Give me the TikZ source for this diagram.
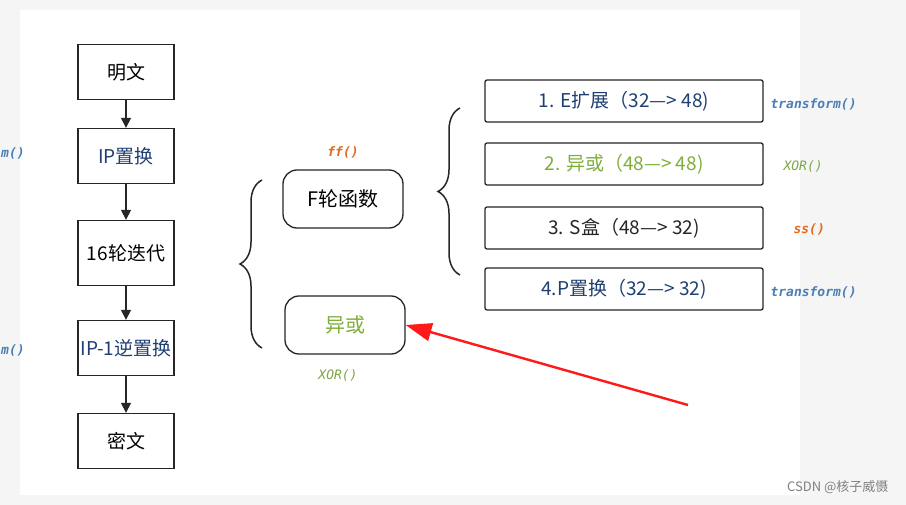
\documentclass[tikz,border=0pt]{standalone}
\usepackage{fontspec}
\setmainfont{Noto Sans CJK SC}
\newfontfamily\monof{DejaVu Sans Mono}
\usetikzlibrary{decorations.pathreplacing,arrows.meta}
\definecolor{dblue}{HTML}{1F3F73}
\definecolor{lblue}{HTML}{4A7FB5}
\definecolor{lgreen}{HTML}{7FAE3A}
\definecolor{orng}{HTML}{E06A1E}
\begin{document}
\begin{tikzpicture}[x=1pt,y=-1pt,
 box/.style={draw=black!85,line width=1.3pt,minimum width=96pt,font=\fontsize{19}{19}\selectfont,inner sep=0pt},
 rbox/.style={draw=black!85,line width=1.3pt,rounded corners=14pt,minimum width=120pt,minimum height=58pt,font=\fontsize{20}{20}\selectfont},
 sbox/.style={draw=black!85,line width=1.3pt,rounded corners=2pt,minimum width=278pt,minimum height=42pt,font=\fontsize{19}{19}\selectfont},
 fn/.style={font=\monof\itshape\bfseries\fontsize{13}{13}\selectfont},
 arr/.style={-{Triangle[length=10pt,width=10pt]},line width=1.3pt,black!85},
 br/.style={decorate,decoration={brace,amplitude=22pt},line width=1.5pt,black!85}]
\useasboundingbox (0,0) rectangle (906,505);
\clip (0,0) rectangle (906,505);
\fill[gray!8] (0,0) rectangle (906,505);
\fill[white] (20,10) rectangle (800,495);
\node[box,minimum height=55pt] (a) at (126,72) {明文};
\node[box,minimum height=55pt,text=dblue] (b) at (126,156) {IP置换};
\node[box,minimum height=65pt] (c) at (126,253) {16轮迭代};
\node[box,minimum height=55pt,text=dblue] (d) at (126,348) {IP-1逆置换};
\node[box,minimum height=55pt] (e) at (126,441) {密文};
\draw[arr] (a) -- (b); \draw[arr] (b) -- (c); \draw[arr] (c) -- (d); \draw[arr] (d) -- (e);
\node[fn,text=lblue,anchor=west,inner sep=1pt] (lb1) at (0,153) {m()};
\node[fn,text=lblue,anchor=west,inner sep=1pt] (lb2) at (0,350) {m()};
\coordinate (b1s) at (262,348); \coordinate (b1e) at (262,180);
\draw[br] (b1s) -- (b1e);
\node[rbox] (f) at (343,199) {F轮函数};
\node[rbox,text=lgreen] (x) at (345,325) {异或};
\node[fn,text=orng] (ff) at (343,152) {ff()};
\node[fn,text=lgreen!80!gray,font=\monof\itshape\fontsize{13}{13}\selectfont] (xl) at (338,375) {XOR()};
\coordinate (b2s) at (460,275); \coordinate (b2e) at (460,108);
\draw[br] (b2s) -- (b2e);
\node[sbox,text=dblue] (s1) at (624,101) {1. E扩展（32—> 48)};
\node[sbox,text=lgreen] (s2) at (624,164) {2. 异或（48—> 48)};
\node[sbox,text=black!85] (s3) at (624,228) {3. S盒（48—> 32)};
\node[sbox,text=dblue] (s4) at (624,289) {4.P置换（32—> 32)};
\node[fn,text=lblue,anchor=west] (t1) at (767,104) {transform()};
\node[fn,text=lgreen!80!gray,font=\monof\itshape\fontsize{13}{13}\selectfont,anchor=west] (t2) at (780,166) {XOR()};
\node[fn,text=orng,anchor=west] (t3) at (790,229) {ss()};
\node[fn,text=lblue,anchor=west] (t4) at (767,292) {transform()};
\coordinate (rs) at (688,405);
\draw[-{Triangle[length=26pt,width=18pt]},red!90,line width=2.4pt] (rs) -- (x.east);
\node[text=gray,font=\fontsize{13}{13}\selectfont,anchor=east] (wm) at (892,487) {CSDN @核子威慑};
\end{tikzpicture}
\end{document}
